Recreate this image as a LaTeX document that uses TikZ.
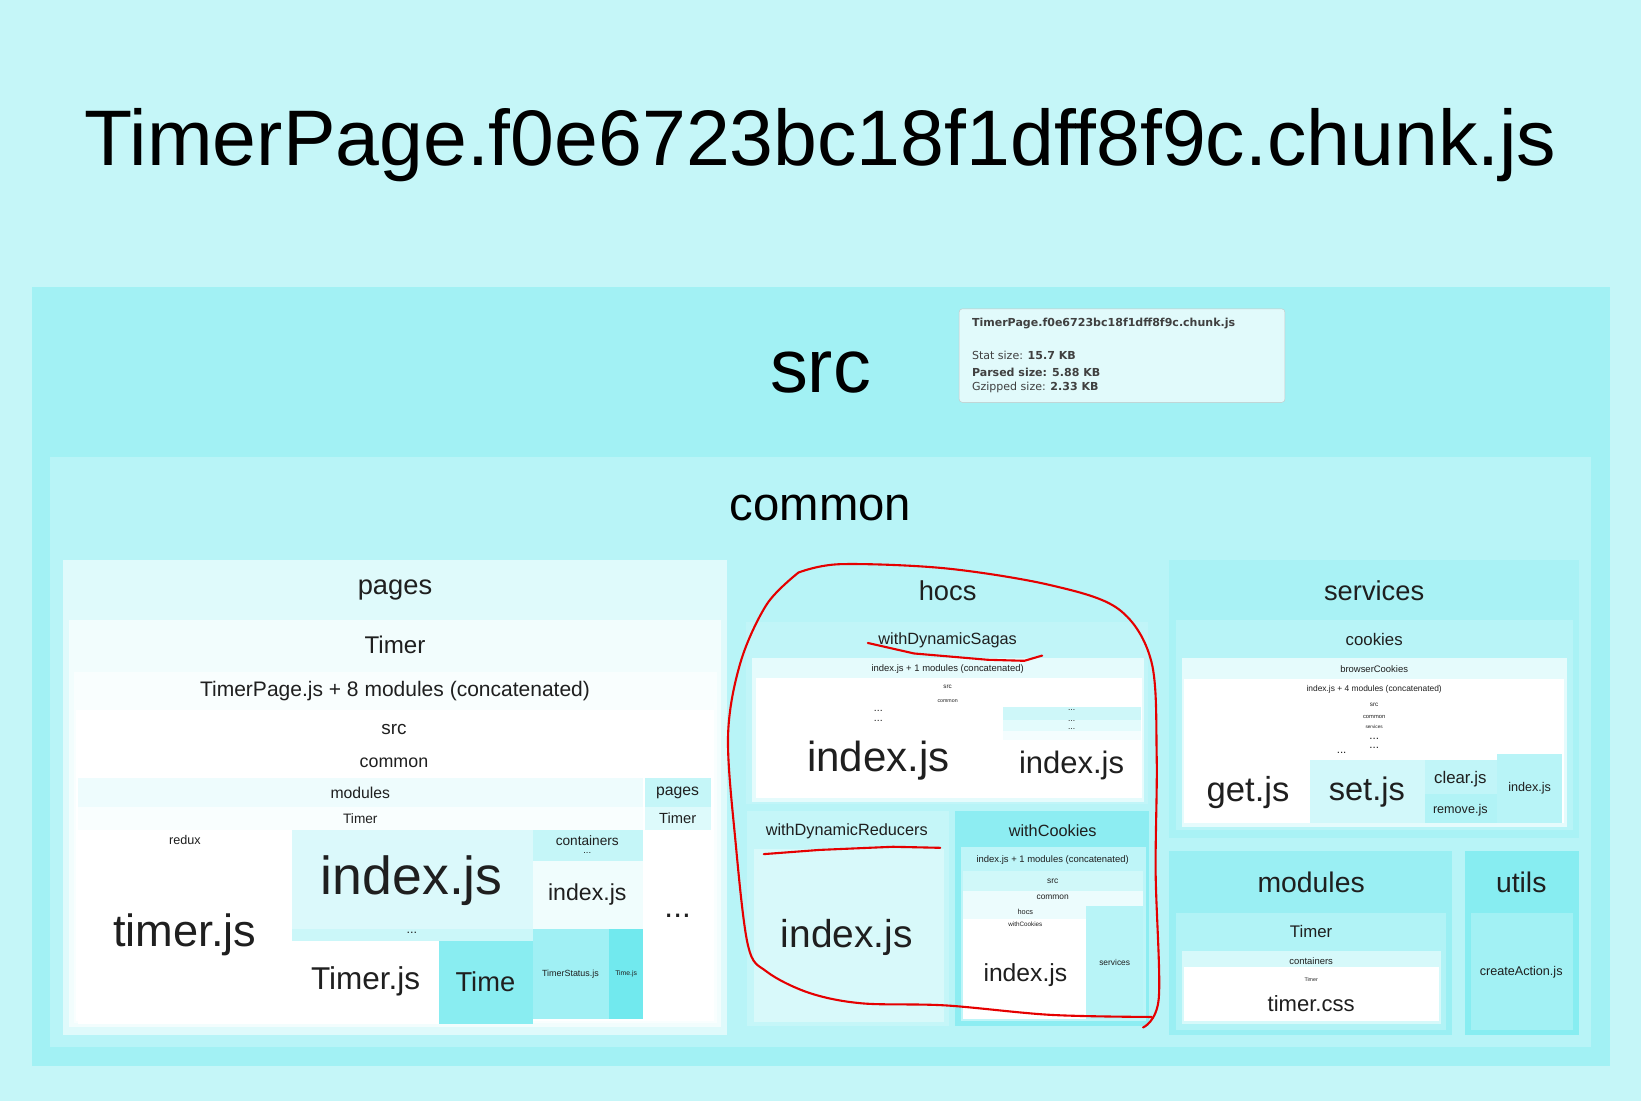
\documentclass[tikz,border=0pt]{standalone}
\usepackage{fontspec}
\setmainfont{Liberation Sans}
\newfontfamily\tipfont{DejaVu Sans}
\definecolor{cyan}{RGB}{40,222,230}
\newcommand{\fs}[1]{\fontsize{#1}{#1}\selectfont}
\newcommand{\bx}[5]{\fill[#1] (#2,#3) rectangle (#4,#5);}
\begin{document}
\begin{tikzpicture}[x=1pt,y=-1pt,lbl/.style={inner sep=0pt,text=black!88},
 hand/.style={draw=red!90!black,line width=2pt,line cap=round,line join=round}]
\useasboundingbox (0,0) rectangle (1562,1048);
\bx{cyan!27!white}{0}{0}{1562}{1048}
\bx{cyan!43!white}{30}{273}{1532}{1015}
\bx{cyan!33!white}{48}{435}{1514}{997}
% pages
\bx{cyan!15!white}{60}{533}{692}{985}
\bx{cyan!6!white}{66}{590}{686}{978}
\bx{cyan!3!white}{70}{640}{682}{974}
\bx{white}{72}{676}{680}{972}
\bx{cyan!8!white}{74}{741}{612}{768}
\bx{cyan!3!white}{74}{768}{612}{790}
\bx{white}{74}{790}{278}{975}
\bx{cyan!17!white}{278}{790}{507}{884}
\bx{cyan!24!white}{278}{884}{507}{896}
\bx{white}{278}{896}{418}{975}
\bx{cyan!55!white}{418}{896}{507}{975}
\bx{cyan!27!white}{507}{790}{612}{820}
\bx{cyan!7!white}{507}{820}{612}{884}
\bx{cyan!44!white}{507}{884}{580}{970}
\bx{cyan!66!white}{580}{884}{612}{970}
\bx{cyan!27!white}{614}{741}{677}{768}
\bx{cyan!16!white}{614}{768}{677}{790}
\bx{white}{614}{790}{677}{970}
\node[lbl,font=\fs{26}] (tpages) at (376,562) {pages};
\node[lbl,font=\fs{23}] (tptimer) at (376,614) {Timer};
\node[lbl,font=\fs{20}] (tconc) at (376,658) {TimerPage.js + 8 modules (concatenated)};
\node[lbl,font=\fs{18}] (tsrc) at (375,694) {src};
\node[lbl,font=\fs{17}] (tcommon) at (375,726) {common};
\node[lbl,font=\fs{15}] (tmod) at (343,755) {modules};
\node[lbl,font=\fs{13}] (tmtimer) at (343,779) {Timer};
\node[lbl,font=\fs{12}] (tredux) at (176,800) {redux};
\node[lbl,font=\fs{43}] (ttimerjs) at (176,890) {timer.js};
\node[lbl,font=\fs{51}] (tidx1) at (392,838) {index.js};
\node[lbl,font=\fs{12}] (tdots1) at (392,888) {...};
\node[lbl,font=\fs{30}] (ttimerjs2) at (348,934) {Timer.js};
\node[lbl,font=\fs{26}] (ttime) at (462,934) {Time};
\node[lbl,font=\fs{13}] (tcont) at (559,800) {containers};
\node[lbl,font=\fs{9}] (tdots2) at (559,812) {...};
\node[lbl,font=\fs{22}] (tidx2) at (559,851) {index.js};
\node[lbl,font=\fs{8.5}] (tstatus) at (543,927) {TimerStatus.js};
\node[lbl,font=\fs{6.5}] (ttimejs) at (596,927) {Time.js};
\node[lbl,font=\fs{15}] (tpages2) at (645,755) {pages};
\node[lbl,font=\fs{14}] (tptimer2) at (645,779) {Timer};
\node[lbl,font=\fs{30}] (tdots3) at (645,872) {...};
% hocs
\bx{cyan!33!white}{702}{533}{1103}{985}
\bx{cyan!29!white}{710}{592}{1093}{765}
\bx{cyan!12!white}{716}{626}{1089}{763}
\bx{white}{720}{645}{1087}{760}
\bx{cyan!23!white}{955}{673}{1086}{685}
\bx{cyan!13!white}{955}{685}{1086}{696}
\bx{cyan!5!white}{955}{696}{1086}{704}
\bx{cyan!27!white}{711}{772}{903}{977}
\bx{cyan!18!white}{718}{808}{899}{973}
\bx{cyan!53!white}{909}{772}{1094}{977}
\bx{cyan!30!white}{915}{806}{1091}{972}
\bx{cyan!22!white}{917}{829}{1088}{848}
\bx{cyan!9!white}{917}{848}{1088}{862}
\bx{cyan!9!white}{917}{862}{1034}{875}
\bx{white}{917}{875}{1034}{970}
\bx{cyan!33!white}{1034}{862}{1088}{970}
\node[lbl,font=\fs{26}] (thocs) at (902,562) {hocs};
\node[lbl,font=\fs{15.5}] (tsagas) at (902,609) {withDynamicSagas};
\node[lbl,font=\fs{9}] (tconc2) at (902,637) {index.js + 1 modules (concatenated)};
\node[lbl,font=\fs{6}] (tsrc2) at (902,654) {src};
\node[lbl,font=\fs{5}] (tcom2) at (902,667) {common};
\node[lbl,font=\fs{10}] (tdd1) at (836,677) {...};
\node[lbl,font=\fs{10}] (tdd2) at (836,686) {...};
\node[lbl,font=\fs{8}] (tdd3) at (1020,676) {...};
\node[lbl,font=\fs{8}] (tdd4) at (1020,686) {...};
\node[lbl,font=\fs{8}] (tdd5) at (1020,694) {...};
\node[lbl,font=\fs{40}] (tidx3) at (836,724) {index.js};
\node[lbl,font=\fs{29.5}] (tidx4) at (1020,729) {index.js};
\node[lbl,font=\fs{15.5}] (treduc) at (806,791) {withDynamicReducers};
\node[lbl,font=\fs{37}] (tidx5) at (806,892) {index.js};
\node[lbl,font=\fs{15.5}] (tcook) at (1002,791) {withCookies};
\node[lbl,font=\fs{9}] (tconc3) at (1002,819) {index.js + 1 modules (concatenated)};
\node[lbl,font=\fs{8}] (tsrc3) at (1002,839) {src};
\node[lbl,font=\fs{8}] (tcom3) at (1002,854) {common};
\node[lbl,font=\fs{7}] (thocs3) at (976,868) {hocs};
\node[lbl,font=\fs{6}] (twc3) at (976,880) {withCookies};
\node[lbl,font=\fs{23.5}] (tidx6) at (976,928) {index.js};
\node[lbl,font=\fs{8}] (tserv3) at (1061,916) {services};
% services
\bx{cyan!40!white}{1113}{533}{1503}{798}
\bx{cyan!33!white}{1119}{590}{1497}{790}
\bx{cyan!12!white}{1125}{626}{1492}{787}
\bx{white}{1127}{646}{1489}{783}
\bx{white}{1127}{723}{1247}{783}
\bx{cyan!21!white}{1247}{723}{1356}{783}
\bx{cyan!29!white}{1356}{723}{1425}{756}
\bx{cyan!36!white}{1356}{756}{1425}{783}
\bx{cyan!33!white}{1425}{718}{1487}{783}
\node[lbl,font=\fs{26}] (tservices) at (1308,562) {services};
\node[lbl,font=\fs{16}] (tcookies) at (1308,609) {cookies};
\node[lbl,font=\fs{9}] (tbc) at (1308,637) {browserCookies};
\node[lbl,font=\fs{8}] (tconc4) at (1308,656) {index.js + 4 modules (concatenated)};
\node[lbl,font=\fs{6}] (tsrc4) at (1308,671) {src};
\node[lbl,font=\fs{5.5}] (tcom4) at (1308,682) {common};
\node[lbl,font=\fs{4.5}] (tser4) at (1308,692) {services};
\node[lbl,font=\fs{11}] (tdd6) at (1308,703) {...};
\node[lbl,font=\fs{11}] (tdd7) at (1308,712) {...};
\node[lbl,font=\fs{11}] (tdd8) at (1277,717) {...};
\node[lbl,font=\fs{33}] (tget) at (1188,754) {get.js};
\node[lbl,font=\fs{31}] (tset) at (1301,754) {set.js};
\node[lbl,font=\fs{16}] (tclear) at (1390,742) {clear.js};
\node[lbl,font=\fs{12}] (tremove) at (1390,771) {remove.js};
\node[lbl,font=\fs{12}] (tidx7) at (1456,750) {index.js};
% modules
\bx{cyan!47!white}{1113}{810}{1382}{985}
\bx{cyan!36!white}{1119}{869}{1376}{980}
\bx{cyan!19!white}{1125}{905}{1372}{975}
\bx{white}{1127}{920}{1370}{972}
\node[lbl,font=\fs{27}] (tmodules) at (1248,840) {modules};
\node[lbl,font=\fs{16}] (tmtimer2) at (1248,887) {Timer};
\node[lbl,font=\fs{9}] (tcont2) at (1248,915) {containers};
\node[lbl,font=\fs{5}] (ttimer5) at (1248,932) {Timer};
\node[lbl,font=\fs{21}] (tcss) at (1248,955) {timer.css};
% utils
\bx{cyan!56!white}{1394}{810}{1503}{985}
\bx{cyan!43!white}{1400}{869}{1497}{980}
\node[lbl,font=\fs{27}] (tutils) at (1448,840) {utils};
\node[lbl,font=\fs{12}] (tca) at (1448,925) {createAction.js};
% titles
\node[lbl,text=black,font=\fs{75}] (title) at (781,138) {TimerPage.f0e6723bc18f1dff8f9c.chunk.js};
\node[lbl,text=black,font=\fs{72}] (tsrcbig) at (781,355) {src};
\node[lbl,text=black,font=\fs{45}] (tcommonbig) at (781,484) {common};
% tooltip
\draw[fill=cyan!14!white,draw=gray!45,rounded corners=3pt] (913,294) rectangle (1223,383);
\node[lbl,anchor=west,text=black!75,font=\tipfont\fs{10.5}\bfseries] (tip1) at (925,308) {TimerPage.f0e6723bc18f1dff8f9c.chunk.js};
\node[lbl,anchor=west,text=black!75,font=\tipfont\fs{10.5}] (tip2) at (925,338) {Stat size: \textbf{15.7 KB}};
\node[lbl,anchor=west,text=black!75,font=\tipfont\fs{10.5}] (tip3) at (925,354) {\textbf{Parsed size: 5.88 KB}};
\node[lbl,anchor=west,text=black!75,font=\tipfont\fs{10.5}] (tip4) at (925,369) {Gzipped size: \textbf{2.33 KB}};
% red hand marks
\draw[hand] (826,612) -- (870,622) -- (940,628) -- (975,629) -- (992,624);
\draw[hand] (727,813) -- (780,809) -- (850,806) -- (895,807);
\draw[hand] plot[smooth,tension=0.55] coordinates {(760,545) (800,537) (900,541) (1000,557) (1065,580) (1096,630) (1101,720) (1100,830) (1103,950) (1088,978)};
\draw[hand] plot[smooth,tension=0.55] coordinates {(1096,968) (1000,966) (900,957) (820,955) (770,945) (730,925) (712,900) (700,800) (693,700) (705,630) (730,575) (760,545)};
\end{tikzpicture}
\end{document}
